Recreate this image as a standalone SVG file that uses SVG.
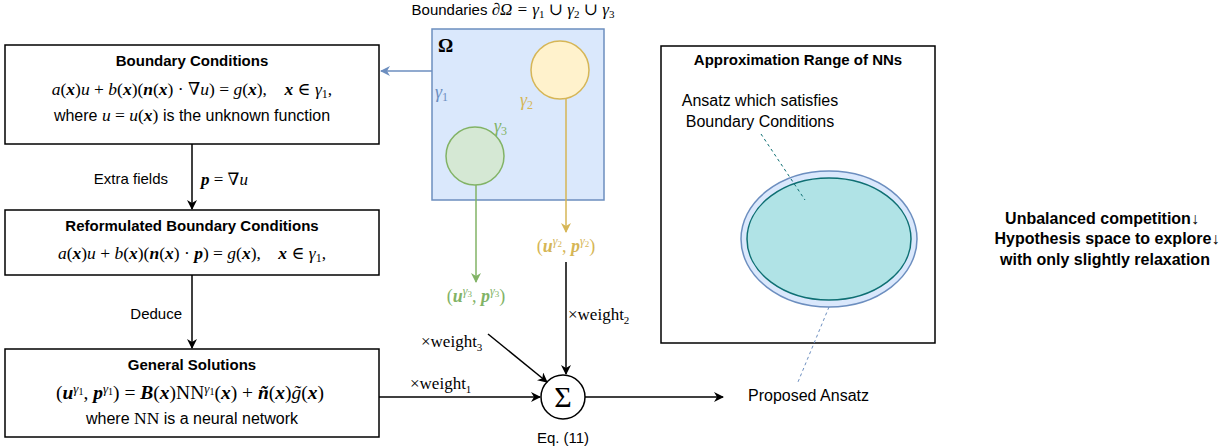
<svg xmlns="http://www.w3.org/2000/svg" width="1225" height="447" viewBox="0 0 1225 447" font-size="15">
<style>
.s{font-family:"Liberation Sans",Arial,sans-serif;fill:#000}
.b{font-family:"Liberation Sans",Arial,sans-serif;font-weight:bold}
.m{font-family:"Liberation Serif","DejaVu Serif",serif}
.i{font-style:italic}
.box{fill:#fff;stroke:#000;stroke-width:1.5}
.ln{fill:none;stroke:#000;stroke-width:1.5}
</style>
<defs>
<marker id="ak" markerWidth="10" markerHeight="10" refX="9" refY="5" orient="auto" markerUnits="userSpaceOnUse"><path d="M0,0 L10,5 L0,10 L3,5z" fill="#000"/></marker>
<marker id="ab" markerWidth="10" markerHeight="10" refX="9" refY="5" orient="auto" markerUnits="userSpaceOnUse"><path d="M0,0 L10,5 L0,10 L3,5z" fill="#6c8ebf"/></marker>
<marker id="ay" markerWidth="10" markerHeight="10" refX="9" refY="5" orient="auto" markerUnits="userSpaceOnUse"><path d="M0,0 L10,5 L0,10 L3,5z" fill="#d6b656"/></marker>
<marker id="ag" markerWidth="10" markerHeight="10" refX="9" refY="5" orient="auto" markerUnits="userSpaceOnUse"><path d="M0,0 L10,5 L0,10 L3,5z" fill="#82b366"/></marker>
</defs>
<text class="s" x="513" y="15" text-anchor="middle" font-size="15">Boundaries <tspan class="m i" font-size="17">∂Ω = γ<tspan font-size="11" dy="3" font-style="normal">1</tspan><tspan dy="-3" font-style="normal"> ∪ </tspan>γ<tspan font-size="11" dy="3" font-style="normal">2</tspan><tspan dy="-3" font-style="normal"> ∪ </tspan>γ<tspan font-size="11" dy="3" font-style="normal">3</tspan></tspan></text>
<g id="omega">
<rect x="432" y="29" width="172" height="171" fill="#dae8fc" stroke="#6c8ebf" stroke-width="1.5"/>
<text class="m" x="438" y="52" font-weight="bold" font-size="19">Ω</text>
<text class="m i" x="435" y="98" fill="#6c8ebf" font-size="18">γ<tspan font-size="12" dy="3" font-style="normal">1</tspan></text>
<circle cx="560" cy="70" r="29" fill="#fff2cc" stroke="#d6b656" stroke-width="1.5"/>
<text class="m i" x="520" y="106" fill="#d6b656" font-size="18">γ<tspan font-size="12" dy="3" font-style="normal">2</tspan></text>
<circle cx="475" cy="156" r="29" fill="#d5e8d4" stroke="#82b366" stroke-width="1.5"/>
<text class="m i" x="494" y="132" fill="#82b366" font-size="18">γ<tspan font-size="12" dy="3" font-style="normal">3</tspan></text>
</g>
<g id="bc">
<rect class="box" x="5" y="45" width="374" height="99"/>
<text class="b" x="192" y="66" text-anchor="middle">Boundary Conditions</text>
<text class="m" x="192" y="95" text-anchor="middle" font-size="17.5" xml:space="preserve"><tspan class="i">a</tspan>(<tspan font-weight="bold" class="i">x</tspan>)<tspan class="i">u</tspan> + <tspan class="i">b</tspan>(<tspan font-weight="bold" class="i">x</tspan>)(<tspan font-weight="bold" class="i">n</tspan>(<tspan font-weight="bold" class="i">x</tspan>) · ∇<tspan class="i">u</tspan>) = <tspan class="i">g</tspan>(<tspan font-weight="bold" class="i">x</tspan>),    <tspan font-weight="bold" class="i">x</tspan> ∈ <tspan class="i">γ</tspan><tspan font-size="12" dy="3">1</tspan><tspan dy="-3">,</tspan></text>
<text class="s" x="192" y="121" text-anchor="middle" font-size="16">where <tspan class="m i" font-size="17.5">u</tspan><tspan class="m" font-size="17.5"> = </tspan><tspan class="m i" font-size="17.5">u</tspan><tspan class="m" font-size="17.5">(</tspan><tspan class="m i" font-weight="bold" font-size="17.5">x</tspan><tspan class="m" font-size="17.5">)</tspan> is the unknown function</text>
</g>
<g id="rbc">
<rect class="box" x="5" y="210" width="374" height="65"/>
<text class="b" x="192" y="231" text-anchor="middle">Reformulated Boundary Conditions</text>
<text class="m" x="192" y="259" text-anchor="middle" font-size="17.5" xml:space="preserve"><tspan class="i">a</tspan>(<tspan font-weight="bold" class="i">x</tspan>)<tspan class="i">u</tspan> + <tspan class="i">b</tspan>(<tspan font-weight="bold" class="i">x</tspan>)(<tspan font-weight="bold" class="i">n</tspan>(<tspan font-weight="bold" class="i">x</tspan>) · <tspan font-weight="bold" class="i">p</tspan>) = <tspan class="i">g</tspan>(<tspan font-weight="bold" class="i">x</tspan>),    <tspan font-weight="bold" class="i">x</tspan> ∈ <tspan class="i">γ</tspan><tspan font-size="12" dy="3">1</tspan><tspan dy="-3">,</tspan></text>
</g>
<g id="gs">
<rect class="box" x="5" y="349" width="374" height="88"/>
<text class="b" x="192" y="370" text-anchor="middle">General Solutions</text>
<text class="m" x="190" y="399" text-anchor="middle" font-size="19.5">(<tspan class="i" font-weight="bold">u</tspan><tspan font-size="13" dy="-6" class="i">γ</tspan><tspan font-size="10" dy="2">1</tspan><tspan dy="4">, </tspan><tspan class="i" font-weight="bold">p</tspan><tspan font-size="13" dy="-6" class="i">γ</tspan><tspan font-size="10" dy="2">1</tspan><tspan dy="4">) = </tspan><tspan class="i" font-weight="bold">B</tspan>(<tspan font-weight="bold" class="i">x</tspan>)NN<tspan font-size="13" dy="-6" class="i">γ</tspan><tspan font-size="10" dy="2">1</tspan><tspan dy="4">(</tspan><tspan font-weight="bold" class="i">x</tspan>) + <tspan font-weight="bold" class="i">ñ</tspan>(<tspan font-weight="bold" class="i">x</tspan>)<tspan class="i">g̃</tspan>(<tspan font-weight="bold" class="i">x</tspan>)</text>
<text class="s" x="192" y="424" text-anchor="middle" font-size="16">where <tspan class="m" font-size="17.5">NN</tspan> is a neural network</text>
</g>
<g id="sigma">
<circle cx="563" cy="397" r="22" fill="#fff" stroke="#000" stroke-width="1.5"/>
<text class="m" x="563" y="407" text-anchor="middle" font-size="30">Σ</text>
<text class="s" x="563" y="443" text-anchor="middle" font-size="15">Eq. (11)</text>
</g>
<g id="range">
<rect class="box" x="661" y="46" width="274" height="297"/>
<text class="b" x="798" y="65" text-anchor="middle">Approximation Range of NNs</text>
<text class="s" x="760" y="106" text-anchor="middle" font-size="16">Ansatz which satisfies</text>
<text class="s" x="760" y="127" text-anchor="middle" font-size="16">Boundary Conditions</text>
<ellipse cx="829" cy="239" rx="88" ry="68" fill="#dae8fc" stroke="#6c8ebf" stroke-width="1.5"/>
<ellipse cx="829" cy="239" rx="82" ry="61" fill="#b0e3e6" stroke="#0e6f73" stroke-width="1.5"/>
</g>
<text class="s" x="748" y="401" font-size="16">Proposed Ansatz</text>
<g id="notes">
<text class="b" x="1102" y="224" text-anchor="middle" font-size="16">Unbalanced competition<tspan font-weight="normal">↓</tspan></text>
<text class="b" x="1107" y="244" text-anchor="middle" font-size="16">Hypothesis space to explore<tspan font-weight="normal">↓</tspan></text>
<text class="b" x="1105" y="265" text-anchor="middle" font-size="16">with only slightly relaxation</text>
</g>
<g id="connectors">
<line x1="432" y1="71" x2="381" y2="71" stroke="#6c8ebf" stroke-width="1.5" marker-end="url(#ab)"/>
<line class="ln" x1="192" y1="144" x2="192" y2="209" marker-end="url(#ak)"/>
<line class="ln" x1="192" y1="275" x2="192" y2="348" marker-end="url(#ak)"/>
<line x1="566" y1="99" x2="566" y2="232" stroke="#d6b656" stroke-width="1.5" marker-end="url(#ay)"/>
<line x1="476" y1="185" x2="476" y2="282" stroke="#82b366" stroke-width="1.5" marker-end="url(#ag)"/>
<line class="ln" x1="566" y1="262" x2="566" y2="374" marker-end="url(#ak)"/>
<line class="ln" x1="488" y1="334" x2="547" y2="382" marker-end="url(#ak)"/>
<line class="ln" x1="379" y1="397" x2="540" y2="397" marker-end="url(#ak)"/>
<line class="ln" x1="585" y1="397" x2="723" y2="397" marker-end="url(#ak)"/>
<line x1="761" y1="134" x2="805" y2="200" stroke="#0e6f73" stroke-width="1" stroke-dasharray="3,3"/>
<line x1="829" y1="307" x2="798" y2="382" stroke="#6c8ebf" stroke-width="1" stroke-dasharray="3,3"/>
</g>
<text class="s" x="168" y="184" text-anchor="end" font-size="15">Extra fields</text>
<text class="m" x="201" y="185" font-size="17"><tspan class="i" font-weight="bold">p</tspan> = ∇<tspan class="i">u</tspan></text>
<text class="s" x="182" y="319" text-anchor="end" font-size="15">Deduce</text>
<text class="m" x="566" y="252" text-anchor="middle" fill="#d6b656" font-size="18">(<tspan class="i" font-weight="bold">u</tspan><tspan font-size="12" dy="-7" class="i">γ</tspan><tspan font-size="9" dy="2">2</tspan><tspan dy="5">, </tspan><tspan class="i" font-weight="bold">p</tspan><tspan font-size="12" dy="-7" class="i">γ</tspan><tspan font-size="9" dy="2">2</tspan><tspan dy="5">)</tspan></text>
<text class="m" x="476" y="302" text-anchor="middle" fill="#82b366" font-size="18">(<tspan class="i" font-weight="bold">u</tspan><tspan font-size="12" dy="-7" class="i">γ</tspan><tspan font-size="9" dy="2">3</tspan><tspan dy="5">, </tspan><tspan class="i" font-weight="bold">p</tspan><tspan font-size="12" dy="-7" class="i">γ</tspan><tspan font-size="9" dy="2">3</tspan><tspan dy="5">)</tspan></text>
<text class="m" x="568" y="320" font-size="17">×weight<tspan font-size="11" dy="4">2</tspan></text>
<text class="m" x="421" y="347" font-size="17">×weight<tspan font-size="11" dy="4">3</tspan></text>
<text class="m" x="410" y="389" font-size="17">×weight<tspan font-size="11" dy="4">1</tspan></text>
</svg>
